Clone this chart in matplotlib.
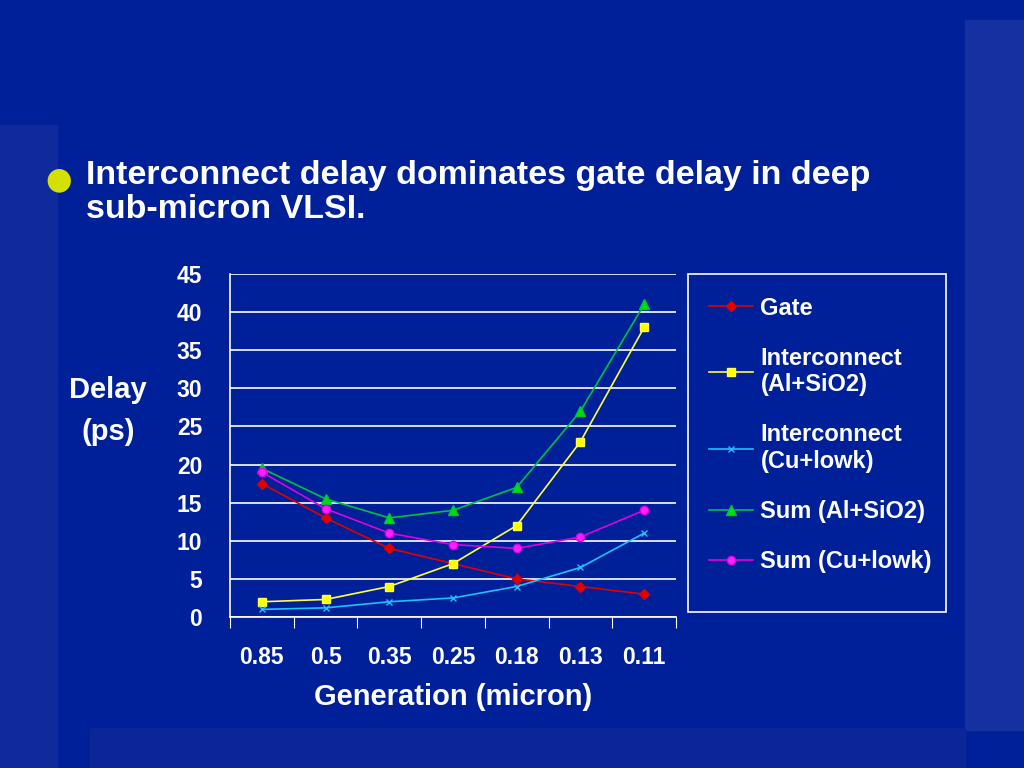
import matplotlib
matplotlib.use("Agg")
import matplotlib.pyplot as plt
import numpy as np

categories = ["0.85", "0.5", "0.35", "0.25", "0.18", "0.13", "0.11"]
gate = [17.5, 13, 9, 7, 5, 4, 3]
inter_al = [2, 2.3, 4, 7, 12, 23, 38]
inter_cu = [1, 1.2, 2, 2.5, 4, 6.5, 11]
sum_al = [19.5, 15.5, 13, 14, 17, 27, 41]
sum_cu = [19, 14.2, 11, 9.5, 9, 10.5, 14]

W, H = 1024, 768
bg = "#00209a"
fig = plt.figure(figsize=(W/100, H/100), dpi=100, facecolor=bg)
fontf = "Liberation Sans"

# background decoration
bga = fig.add_axes([0, 0, 1, 1], zorder=-10)
bga.set_xlim(0, W); bga.set_ylim(H, 0); bga.axis("off")
bga.add_patch(plt.Rectangle((0, 0), W, H, color=bg))
grad = np.concatenate([np.linspace(0, 1, 60), np.linspace(1, 0, 65)])
c1 = np.array([0x1a/255, 0x38/255, 0xa0/255]); c2 = np.array([0x00/255, 0x20/255, 0x96/255])
img = (c1[None, :] * (1 - grad[:, None]) + c2[None, :] * grad[:, None])[:, None, :]
bga.imshow(img, extent=(0, 965, 125, 0), aspect="auto")
bga.add_patch(plt.Rectangle((965, 20), 59, 710, color="#1530a0"))
bga.add_patch(plt.Rectangle((0, 125), 57, 643, color="#0f2a9c"))
bga.add_patch(plt.Rectangle((90, 728), 875, 40, color="#0a2698"))
# legend frame
bga.add_patch(plt.Rectangle((688, 274), 258, 338, facecolor="none", edgecolor="white", lw=1.2))

fig.text(45/W, 1 - 180/H, "\u25cf", color="#d4e000", fontsize=22, family="DejaVu Sans", va="center")
fig.text(86/W, 1 - 160/H, "Interconnect delay dominates gate delay in deep\nsub-micron VLSI.",
         color="white", fontsize=24.5, fontweight="bold", family=fontf, va="top",
         linespacing=1.12)

ax = fig.add_axes([230/W, 1 - 617/H, 446/W, 343/H])
ax.set_facecolor(bg)
x = np.arange(len(categories))
ax.plot(x, gate, color="#e00000", marker="D", ms=5, lw=1.2, label="Gate")
ax.plot(x, inter_al, color="#ffff40", marker="s", ms=6, mfc="#ffff00", lw=1.2, label="Interconnect\n(Al+SiO2)")
ax.plot(x, inter_cu, color="#20c0ff", marker="x", ms=5, lw=1.2, label="Interconnect\n(Cu+lowk)")
ax.plot(x, sum_al, color="#00c040", marker="^", ms=7, mfc="#00e000", lw=1.2, label="Sum (Al+SiO2)")
ax.plot(x, sum_cu, color="#e000e0", marker="o", ms=6, mfc="#ff20ff", lw=1.2, label="Sum (Cu+lowk)")
ax.set_xlim(-0.5, 6.5)
ax.set_ylim(0, 45)
ax.set_yticks(range(0, 46, 5))
ax.grid(axis="y", color="white", lw=1.2)
ax.set_axisbelow(True)
ax.set_xticks(np.arange(-0.5, 7, 1))
ax.set_xticklabels([])
ax.set_xticks(x, minor=True)
ax.set_xticklabels(categories, minor=True)
ax.tick_params(axis="x", which="major", length=8, color="white", direction="out")
ax.tick_params(axis="x", which="minor", length=0, pad=21, labelsize=16.5, labelcolor="white")
ax.tick_params(axis="y", length=0, labelsize=16.5, labelcolor="white", pad=20)
for lab in ax.get_xticklabels(minor=True) + ax.get_yticklabels():
    lab.set_fontweight("bold"); lab.set_family(fontf)
for s in ax.spines.values():
    s.set_color("white"); s.set_linewidth(1.2)
ax.spines["top"].set_visible(False); ax.spines["right"].set_visible(False)
ax.set_xlabel("Generation (micron)", color="white", fontsize=21, fontweight="bold", family=fontf, labelpad=10)
fig.text(108/W, 1 - 411/H, "Delay\n(ps)", color="white", fontsize=21, fontweight="bold",
         family=fontf, ha="center", va="center", linespacing=1.6)

leg = ax.legend(loc="upper left", bbox_to_anchor=(692/W, 1 - 280/H),
                bbox_transform=fig.transFigure, frameon=False, labelcolor="white",
                prop={"family": fontf, "weight": "bold", "size": 17},
                handlelength=1.9, labelspacing=1.15, borderpad=0.2, handletextpad=0.3)

fig.savefig("out.png", dpi=100, facecolor=bg)
